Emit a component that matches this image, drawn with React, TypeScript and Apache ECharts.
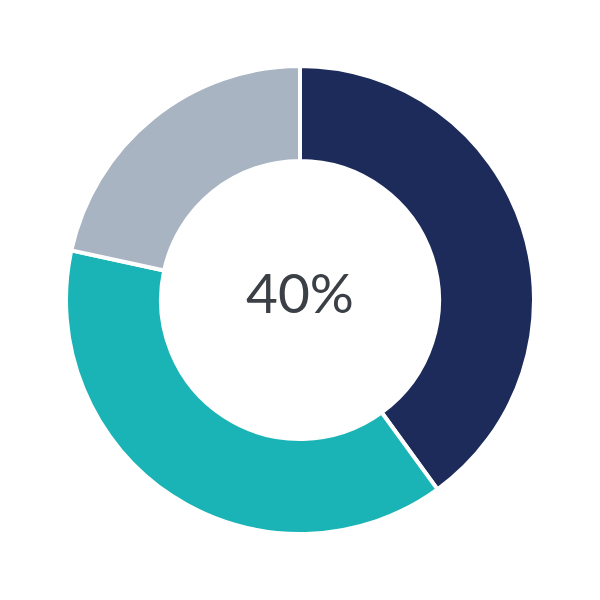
import { useEffect, useRef } from 'react';
import * as echarts from 'echarts';

const categories = ['Navy', 'Teal', 'Gray'];
const values = [40, 38.4, 21.6];
const colors = ['#1c2b5a', '#1bb4b6', '#a9b4c2'];
const centerLabel = '40%';

const App = () => {
  const chartRef = useRef<HTMLDivElement>(null);

  useEffect(() => {
    document.body.style.margin = '0';
    if (!chartRef.current) return;
    const chart = echarts.init(chartRef.current, undefined, { renderer: 'svg' });

    chart.setOption({
      animation: false,
      backgroundColor: '#ffffff',
      series: [
        {
          type: 'pie',
          center: [300, 300],
          radius: [139, 234],
          startAngle: 90,
          clockwise: true,
          label: { show: false },
          labelLine: { show: false },
          emphasis: { disabled: true },
          itemStyle: { borderColor: '#ffffff', borderWidth: 4 },
          data: categories.map((name, i) => ({
            name,
            value: values[i],
            itemStyle: { color: colors[i] },
          })),
        },
      ],
      graphic: [
        {
          type: 'text',
          x: 300,
          y: 292,
          style: {
            text: centerLabel,
            fill: '#3b4046',
            fontSize: 55,
            fontFamily: 'Lato',
            fontWeight: 400,
            textAlign: 'center',
            textVerticalAlign: 'middle',
          },
        },
      ],
    });

    return () => chart.dispose();
  }, []);

  return <div ref={chartRef} style={{ width: 600, height: 600 }} />;
};

export default App;
